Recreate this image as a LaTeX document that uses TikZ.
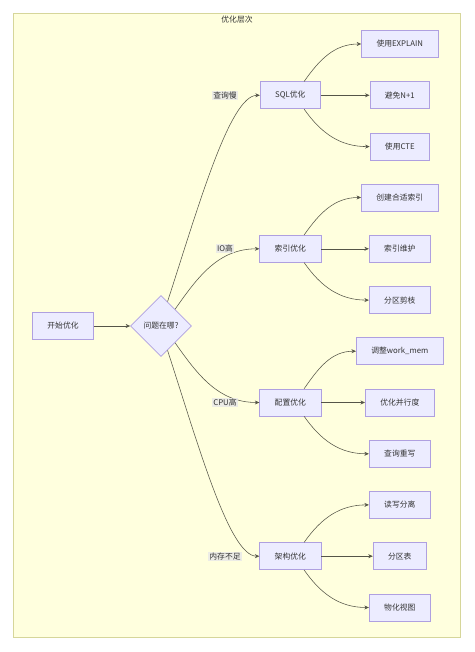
\documentclass[tikz,border=0pt]{standalone}
\usepackage{fontspec}
\setmainfont{Noto Sans CJK SC}
\usetikzlibrary{shapes.geometric, arrows.meta}
\definecolor{boxfill}{HTML}{ECECFF}
\definecolor{boxline}{HTML}{AFA0E0}
\definecolor{groupfill}{HTML}{FFFFDE}
\definecolor{groupline}{HTML}{D6D69A}
\definecolor{inkgray}{HTML}{333333}
\definecolor{edgegray}{HTML}{555548}
\definecolor{labelfill}{HTML}{E8E8E8}
\tikzstyle{optbox} = [rectangle, minimum height=27pt, inner xsep=15pt, inner ysep=0pt, text centered, draw=boxline, fill=boxfill, text=inkgray, line width=0.7pt]
\tikzstyle{decision} = [diamond, aspect=1, minimum width=61pt, minimum height=61pt, inner sep=0pt, text centered, draw=boxline, fill=boxfill, text=inkgray, line width=0.7pt]
\tikzstyle{edgelabel} = [rectangle, fill=labelfill, fill opacity=0.8, text opacity=1, inner sep=1pt, text=inkgray]
\tikzstyle{group} = [draw=groupline, fill=groupfill, line width=0.9pt]
\tikzstyle{arrow} = [line width=0.55pt, draw=edgegray, -{Stealth[length=4.5pt,width=4pt]}]

\begin{document}
\begin{tikzpicture}[x=1pt, y=1pt, node distance=51.3pt, font=\fontsize{7.8}{9}\selectfont]
\useasboundingbox (0,0) rectangle (474,652);
\draw [group] (13.5,14.3) rectangle (460.5,638.5);
\node (title) [text=inkgray] at (237,632.5) {优化层次};

\node (start) [optbox] at (63,326) {开始优化};
\node (where) [decision] at (161,326) {问题在哪?};

\node (sqlopt) [optbox] at (290.3,556.7) {SQL优化};
\node (idxopt) [optbox] at (290.3,403.2) {索引优化};
\node (cfgopt) [optbox] at (290.3,249.5) {配置优化};
\node (archopt) [optbox] at (290.3,95.8) {架构优化};

\node (avoidn) [optbox, right of=sqlopt, xshift=58.2pt] {避免N+1};
\node (explain) [optbox, above of=avoidn] {使用EXPLAIN};
\node (usecte) [optbox, below of=avoidn] {使用CTE};

\node (idxkeep) [optbox, right of=idxopt, xshift=58.2pt] {索引维护};
\node (mkindex) [optbox, above of=idxkeep] {创建合适索引};
\node (prune) [optbox, below of=idxkeep] {分区剪枝};

\node (parallel) [optbox, right of=cfgopt, xshift=58.2pt] {优化并行度};
\node (workmem) [optbox, above of=parallel] {调整work\_mem};
\node (rewrite) [optbox, below of=parallel] {查询重写};

\node (parttable) [optbox, right of=archopt, xshift=58.2pt] {分区表};
\node (rwsplit) [optbox, above of=parttable] {读写分离};
\node (matview) [optbox, below of=parttable] {物化视图};

\draw [arrow] (start) -- (where);
\draw [arrow] (where.75) to[out=72, in=180, out distance=100pt, in distance=30pt] (sqlopt);
\draw [arrow] (where.50) to[out=55, in=180] (idxopt);
\draw [arrow] (where.-50) to[out=-55, in=180] (cfgopt);
\draw [arrow] (where.-75) to[out=-72, in=180, out distance=100pt, in distance=30pt] (archopt);

\node (lslow) [edgelabel] at (225,556.7) {查询慢};
\node (lio) [edgelabel] at (225,403.2) {IO高};
\node (lcpu) [edgelabel] at (225,249.5) {CPU高};
\node (lmem) [edgelabel] at (225,95.8) {内存不足};

\draw [arrow] (sqlopt.45) to[out=55, in=180] (explain);
\draw [arrow] (sqlopt) -- (avoidn);
\draw [arrow] (sqlopt.-45) to[out=-55, in=180] (usecte);

\draw [arrow] (idxopt.45) to[out=55, in=180] (mkindex);
\draw [arrow] (idxopt) -- (idxkeep);
\draw [arrow] (idxopt.-45) to[out=-55, in=180] (prune);

\draw [arrow] (cfgopt.45) to[out=55, in=180] (workmem);
\draw [arrow] (cfgopt) -- (parallel);
\draw [arrow] (cfgopt.-45) to[out=-55, in=180] (rewrite);

\draw [arrow] (archopt.45) to[out=55, in=180] (rwsplit);
\draw [arrow] (archopt) -- (parttable);
\draw [arrow] (archopt.-45) to[out=-55, in=180] (matview);

\end{tikzpicture}
\end{document}
